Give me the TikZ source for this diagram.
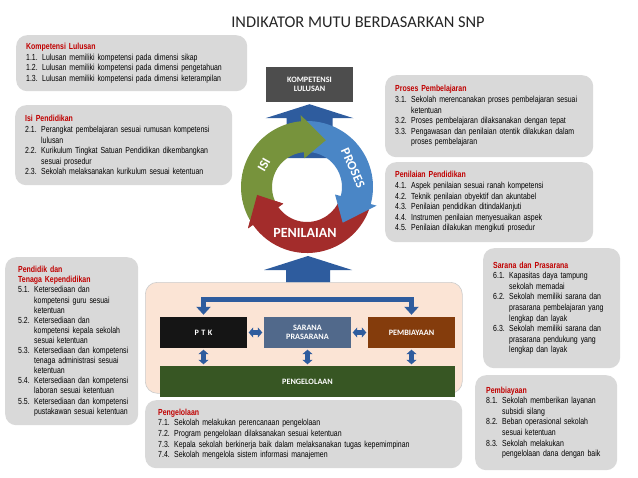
\documentclass[tikz,border=0pt]{standalone}
\usepackage{fontspec}
\setmainfont{Liberation Sans}[FakeStretch=0.79]
\newfontfamily\titlefont{Carlito}
\usetikzlibrary{calc}
\usetikzlibrary{positioning}
\usetikzlibrary{arrows.meta}
\hyphenpenalty=10000
\exhyphenpenalty=10000
\definecolor{boxGrey}{HTML}{D9D9D9}
\definecolor{ttlRed}{HTML}{C00000}
\definecolor{klGrey}{HTML}{4D4D4D}
\definecolor{arrBlue}{HTML}{2E5C9E}
\definecolor{cycGreen}{HTML}{77933C}
\definecolor{cycBlue}{HTML}{4A86C6}
\definecolor{cycRed}{HTML}{A32C2B}
\definecolor{peach}{HTML}{FBE4D5}
\definecolor{ptkBlack}{HTML}{151515}
\definecolor{saranaBlue}{HTML}{51698B}
\definecolor{pembBrown}{HTML}{843C0C}
\definecolor{pengGreen}{HTML}{375623}
\tikzstyle{infobox} = [anchor=north west, fill=boxGrey, rounded corners=11bp, inner xsep=10bp, inner ysep=2bp, align=left, font=\fontsize{8.8bp}{10.6bp}\selectfont]
\tikzstyle{darkbox} = [minimum width=87bp, minimum height=31bp, inner sep=1bp, align=center, text=white, font=\titlefont\bfseries\fontsize{8.2bp}{9.6bp}\selectfont]
\tikzstyle{cyclabel} = [text=white, font=\titlefont\bfseries\fontsize{13bp}{15bp}\selectfont]
\tikzstyle{dblarrow} = [draw=arrBlue, line width=4.5bp, >={Triangle[width=10bp,length=4.5bp]}, <->, shorten >=1.5bp, shorten <=1.5bp]
\tikzstyle{bracket} = [draw=arrBlue, line width=5bp, >={Triangle[width=14bp,length=8bp]}, <->]
\newcommand{\ttl}[1]{{\color{ttlRed}\bfseries #1}}
\newcommand{\itm}[2]{\par\hangindent=16bp\hangafter=1\noindent\makebox[16bp][l]{#1}#2}
\newcommand{\cycarrow}[4]{%
  \fill[#1] ($(cyc)+(#2:66)$) arc[start angle=#2, end angle=#3, radius=66]
    -- ($(cyc)+(#3:72)$) -- ($(cyc)+(#4:50.5)$) -- ($(cyc)+(#3:29)$)
    -- ($(cyc)+(#3:35)$) arc[start angle=#3, end angle=#2, radius=35] -- cycle;}
\newcommand{\cychead}[3]{\fill[#1] ($(cyc)+(#2:72)$) -- ($(cyc)+(#3:50.5)$) -- ($(cyc)+(#2:29)$) -- cycle;}

\begin{document}
\begin{tikzpicture}[x=1bp, y=-1bp]
    \fill[white] (0,0) rectangle (638,478);
    \useasboundingbox (0,0) rectangle (638,478);
    \node[font=\titlefont\fontsize{16.4bp}{20bp}\selectfont, text=black!85] (title) at (358,22) {INDIKATOR MUTU BERDASARKAN SNP};

    \node[infobox, text width=211bp, minimum height=56bp] (kl_box) at (16,35) {\ttl{Kompetensi Lulusan}
        \itm{1.1.}{Lulusan memiliki kompetensi pada dimensi sikap}
        \itm{1.2.}{Lulusan memiliki kompetensi pada dimensi pengetahuan}
        \itm{1.3.}{Lulusan memiliki kompetensi pada dimensi keterampilan}\par};
    \node[infobox, text width=197bp, minimum height=80bp] (isi_box) at (15,105) {\ttl{Isi Pendidikan}
        \itm{2.1.}{Perangkat pembelajaran sesuai rumusan kompetensi\newline lulusan}
        \itm{2.2.}{Kurikulum Tingkat Satuan Pendidikan dikembangkan\newline sesuai prosedur}
        \itm{2.3.}{Sekolah melaksanakan kurikulum sesuai ketentuan}\par};
    \node[infobox, text width=188bp, minimum height=82bp] (proses_box) at (385,75) {\ttl{Proses Pembelajaran}
        \itm{3.1.}{Sekolah merencanakan proses pembelajaran sesuai\newline ketentuan}
        \itm{3.2.}{Proses pembelajaran dilaksanakan dengan tepat}
        \itm{3.3.}{Pengawasan dan penilaian otentik dilakukan dalam\newline proses pembelajaran}\par};
    \node[infobox, text width=188bp, minimum height=80bp] (penilaian_box) at (385,162) {\ttl{Penilaian Pendidikan}
        \itm{4.1.}{Aspek penilaian sesuai ranah kompetensi}
        \itm{4.2.}{Teknik penilaian obyektif dan akuntabel}
        \itm{4.3.}{Penilaian pendidikan ditindaklanjuti}
        \itm{4.4.}{Instrumen penilaian menyesuaikan aspek}
        \itm{4.5.}{Penilaian dilakukan mengikuti prosedur}\par};
    \node[infobox, inner xsep=4bp, text width=125bp, minimum height=168bp, font=\fontsize{8.8bp}{10.1bp}\selectfont] (pendidik_box) at (5,257) {\leftskip=9bp\ttl{Pendidik dan\newline Tenaga Kependidikan}
        \itm{5.1.}{Ketersediaan dan\newline kompetensi guru sesuai\newline ketentuan}
        \itm{5.2.}{Ketersediaan dan\newline kompetensi kepala sekolah\newline sesuai ketentuan}
        \itm{5.3.}{Ketersediaan dan kompetensi\newline tenaga administrasi sesuai\newline ketentuan}
        \itm{5.4.}{Ketersediaan dan kompetensi\newline laboran sesuai ketentuan}
        \itm{5.5.}{Ketersediaan dan kompetensi\newline pustakawan sesuai ketentuan}\par};
    \node[infobox, text width=117bp, minimum height=120bp] (sarana_box) at (483,248) {\ttl{Sarana dan Prasarana}
        \itm{6.1.}{Kapasitas daya tampung\newline sekolah memadai}
        \itm{6.2.}{Sekolah memiliki sarana dan\newline prasarana pembelajaran yang\newline lengkap dan layak}
        \itm{6.3.}{Sekolah memiliki sarana dan\newline prasarana pendukung yang\newline lengkap dan layak}\par};
    \node[infobox, inner xsep=11bp, text width=120bp, minimum height=95bp] (pembiayaan_box) at (475,375) {\ttl{Pembiayaan}
        \itm{8.1.}{Sekolah memberikan layanan\newline subsidi silang}
        \itm{8.2.}{Beban operasional sekolah\newline sesuai ketentuan}
        \itm{8.3.}{Sekolah melakukan\newline pengelolaan dana dengan baik}\par};

    \node[darkbox, fill=klGrey, minimum height=35bp] (kl_dark) at (309.5,84.5) {KOMPETENSI\\LULUSAN};
    \coordinate (up_tip) at ($(kl_dark.south)+(0,2)$);
    \fill[arrBlue] (up_tip) -- ++(44,14) -- ++(-21,0) -- ++(0,40) -- ++(-46,0) -- ++(0,-40) -- ++(-21,0) -- cycle;

    \coordinate (cyc) at (307,187);
    \cycarrow{cycRed}{379}{505}{531}
    \cycarrow{cycGreen}{150}{265}{292}
    \cycarrow{cycBlue}{269}{375}{405}
    \cychead{cycGreen}{265}{292}
    \cychead{cycRed}{505}{531}
    \node[cyclabel, rotate=60] (isi_lbl) at (264,165) {ISI};
    \node[cyclabel, rotate=-66] (proses_lbl) at (353,168) {PROSES};
    \node[cyclabel, font=\titlefont\bfseries\fontsize{14bp}{16bp}\selectfont] (penilaian_lbl) at (305,233) {PENILAIAN};

    \coordinate (low_tip) at (308,256);
    \fill[arrBlue] (low_tip) -- ++(44,14) -- ++(-22,0) -- ++(0,20) -- ++(-44,0) -- ++(0,-20) -- ++(-22,0) -- cycle;

    \node[anchor=north west, fill=peach, draw=black!20, line width=0.6bp, rounded corners=12bp, minimum width=317bp, minimum height=111bp] (base_box) at (145,282) {};
    \node[darkbox, fill=ptkBlack] (ptk) at (203.5,332.5) {P\hspace{2.5bp}T\hspace{2.5bp}K};
    \node[darkbox, fill=saranaBlue] (sarana) at (307.5,332.5) {SARANA\\PRASARANA};
    \node[darkbox, fill=pembBrown] (pemb) at (411.5,332.5) {PEMBIAYAAN};
    \node[darkbox, fill=pengGreen, minimum width=295bp] (pengelolaan) at (307.5,381.5) {PENGELOLAAN};
    \draw[bracket] ([yshift=2bp]ptk.north) -- ++(0,-15) -| ([yshift=2bp]pemb.north);
    \draw[dblarrow] (ptk) -- (sarana);
    \draw[dblarrow] (sarana) -- (pemb);
    \draw[dblarrow] (ptk) -- (ptk |- pengelolaan.north);
    \draw[dblarrow] (sarana) -- (sarana |- pengelolaan.north);
    \draw[dblarrow] (pemb) -- (pemb |- pengelolaan.north);

    \node[infobox, inner xsep=13bp, text width=291bp, minimum height=68bp] (pengelolaan_box) at (145,400) {\ttl{Pengelolaan}
        \itm{7.1.}{Sekolah melakukan perencanaan pengelolaan}
        \itm{7.2.}{Program pengelolaan dilaksanakan sesuai ketentuan}
        \itm{7.3.}{Kepala sekolah berkinerja baik dalam melaksanakan tugas kepemimpinan}
        \itm{7.4.}{Sekolah mengelola sistem informasi manajemen}\par};
\end{tikzpicture}
\end{document}
